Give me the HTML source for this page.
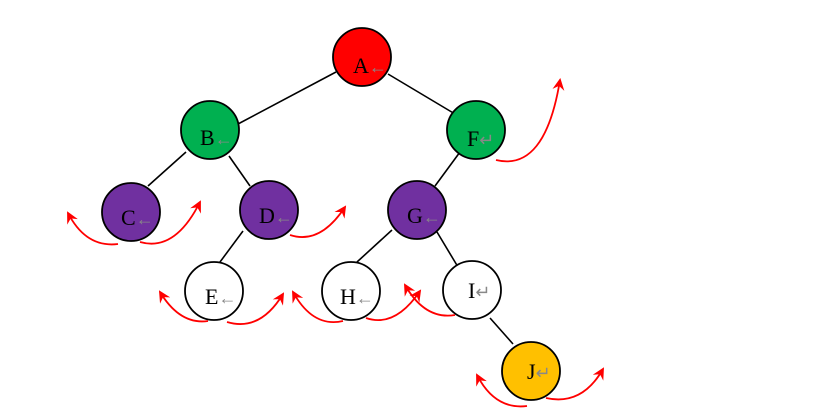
<!DOCTYPE html>
<html><head><meta charset="utf-8"><style>
html,body{margin:0;padding:0;background:#fff;}
svg{display:block;}
text{font-family:"Liberation Serif",serif;}
</style></head><body>
<svg width="814" height="420" viewBox="0 0 814 420" xmlns="http://www.w3.org/2000/svg">
<defs>
<marker id="ar" viewBox="0 0 12 12" refX="10" refY="6" markerWidth="12" markerHeight="12" markerUnits="userSpaceOnUse" orient="auto">
<path d="M0,0 L12,6 L0,12 L4,6 Z" fill="#f00"/>
</marker>
</defs>
<g stroke="#000" stroke-width="1.6">
<line x1="336" y1="72" x2="238" y2="124"/>
<line x1="388" y1="74" x2="455" y2="114"/>
<line x1="186" y1="152" x2="148" y2="186"/>
<line x1="229" y1="156" x2="250" y2="186"/>
<line x1="460" y1="152" x2="435" y2="186"/>
<line x1="243" y1="231" x2="220" y2="262"/>
<line x1="392" y1="230" x2="357" y2="262"/>
<line x1="437" y1="232" x2="458" y2="267"/>
<line x1="490" y1="318" x2="513" y2="344"/>
</g>
<g stroke="#000" stroke-width="1.8">
<circle cx="362" cy="57" r="29" fill="#ff0000"/>
<circle cx="210" cy="130" r="29" fill="#00b050"/>
<circle cx="476" cy="130" r="29" fill="#00b050"/>
<circle cx="131" cy="212" r="29" fill="#7030a0"/>
<circle cx="269" cy="210" r="29" fill="#7030a0"/>
<circle cx="417" cy="210" r="29" fill="#7030a0"/>
<circle cx="214" cy="291" r="29" fill="#fff"/>
<circle cx="351" cy="291" r="29" fill="#fff"/>
<circle cx="472" cy="290" r="29" fill="#fff"/>
<circle cx="531" cy="371" r="29" fill="#ffc000"/>
</g>
<g font-size="22" fill="#000">
<text x="353" y="73">A<tspan fill="#888" font-size="18">←</tspan></text>
<text x="200" y="145">B<tspan fill="#888" font-size="18">←</tspan></text>
<text x="467" y="146">F<tspan fill="#888" font-size="18">↵</tspan></text>
<text x="121" y="225">C<tspan fill="#888" font-size="18">←</tspan></text>
<text x="259" y="223">D<tspan fill="#888" font-size="18">←</tspan></text>
<text x="407" y="223">G<tspan fill="#888" font-size="18">←</tspan></text>
<text x="205" y="304">E<tspan fill="#888" font-size="18">←</tspan></text>
<text x="340" y="304">H<tspan fill="#888" font-size="18">←</tspan></text>
<text x="468" y="298">I<tspan fill="#888" font-size="18">↵</tspan></text>
<text x="527" y="379">J<tspan fill="#888" font-size="18">↵</tspan></text>
</g>
<g stroke="#f00" stroke-width="1.8" fill="none" marker-end="url(#ar)">
<path d="M118,244 Q86,248 68,213"/>
<path d="M140,242 Q175,252 200,202"/>
<path d="M290,235 Q320,245 345,207"/>
<path d="M208,321 Q180,325 160,292"/>
<path d="M227,322 Q260,332 283,294"/>
<path d="M343,321 Q313,328 293,292"/>
<path d="M366,318 Q395,328 420,291"/>
<path d="M455,315 Q425,320 405,285"/>
<path d="M496,160 Q545,172 560,80"/>
<path d="M527,406 Q495,410 477,375"/>
<path d="M546,398 Q582,406 603,369"/>
</g>
</svg>
</body></html>
